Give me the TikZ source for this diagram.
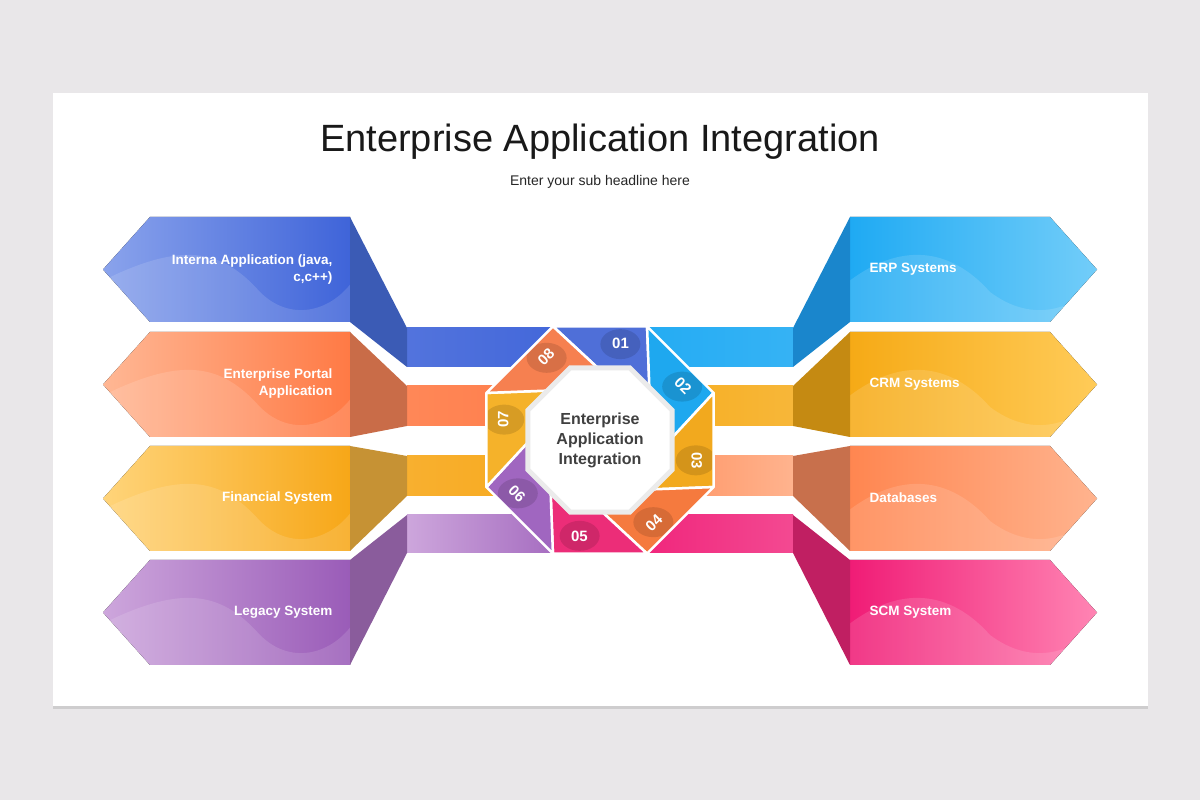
\documentclass[tikz,border=0pt]{standalone}
\usepackage{fontspec}
\setmainfont{Liberation Sans}
\usetikzlibrary{shadows}
\definecolor{bg}{HTML}{E9E7E9}
\definecolor{bluA}{HTML}{8AA3EC}\definecolor{bluB}{HTML}{3F64D9}\definecolor{bluP}{HTML}{3B5BB5}
\definecolor{orA}{HTML}{FFB794}\definecolor{orB}{HTML}{FF7A45}\definecolor{orP}{HTML}{C96C48}
\definecolor{yeA}{HTML}{FFD47A}\definecolor{yeB}{HTML}{F7A718}\definecolor{yeP}{HTML}{C69234}
\definecolor{puA}{HTML}{CDA6DC}\definecolor{puB}{HTML}{9A5CB8}\definecolor{puP}{HTML}{8A5C9C}
\definecolor{lbA}{HTML}{1FAAF3}\definecolor{lbB}{HTML}{72CDF9}\definecolor{lbP}{HTML}{1A86CC}
\definecolor{cyA}{HTML}{F6AA16}\definecolor{cyB}{HTML}{FFCB58}\definecolor{cyP}{HTML}{C58A12}
\definecolor{dbA}{HTML}{FF8650}\definecolor{dbB}{HTML}{FFB38E}\definecolor{dbP}{HTML}{C8704C}
\definecolor{pkA}{HTML}{F01C76}\definecolor{pkB}{HTML}{FF84B3}\definecolor{pkP}{HTML}{C01F62}
\definecolor{s1}{HTML}{4F6FD8}\definecolor{s2}{HTML}{1EA8EF}\definecolor{s3}{HTML}{F2A91E}
\definecolor{s4}{HTML}{F57A3E}\definecolor{s5}{HTML}{EC2D78}\definecolor{s6}{HTML}{A066C0}
\definecolor{s7}{HTML}{F5B22A}\definecolor{s8}{HTML}{F68050}
\begin{document}
\begin{tikzpicture}[x=1pt,y=1pt,
  lbl/.style={text=white,font=\bfseries\fontsize{13.5}{17}\selectfont},
  num/.style={text=white,font=\bfseries\fontsize{15}{16}\selectfont,inner sep=0pt},
  seg/.style={draw=white,line width=2.5pt,line join=round},
]
\useasboundingbox (0,0) rectangle (1200,800);
\fill[bg] (0,0) rectangle (1200,800);
\node[fill=white,minimum width=1095pt,minimum height=613pt,inner sep=0pt,
  drop shadow={shadow xshift=0pt,shadow yshift=-3pt,opacity=0.25}] (card) at (600.5,400.5) {};
\node[font=\fontsize{38}{44}\selectfont,text=black!90] (title) at (600,658) {Enterprise Application Integration};
\node[font=\fontsize{14}{17}\selectfont,text=black!85] (sub) at (600,618) {Enter your sub headline here};

% ---- strips (left)
\fill[left color=bluB!90,right color=bluB] (407,472) rectangle (600,433);
\fill[left color=orB!90,right color=orB] (407,414) rectangle (600,374);
\fill[left color=yeB!90,right color=yeB] (407,344) rectangle (600,304);
\fill[left color=puA,right color=puB] (407,285) rectangle (600,247);
% ---- strips (right)
\fill[left color=lbA,right color=lbA!90] (600,472) rectangle (793,433);
\fill[left color=cyA,right color=cyA!85] (600,414) rectangle (793,374);
\fill[left color=dbA,right color=dbB] (600,344) rectangle (793,304);
\fill[left color=pkA,right color=pkA!80] (600,285) rectangle (793,247);

% ---- left arrows
\newcommand{\leftarr}[6]{%
  \fill[left color=#3,right color=#4] (103,{(#1+#2)/2}) -- (150,#1) -- (350,#1) -- (350,#2) -- (150,#2) -- cycle;
  \begin{scope}
  \clip (103,{(#1+#2)/2}) -- (150,#1) -- (350,#1) -- (350,#2) -- (150,#2) -- cycle;
  \fill[white,opacity=0.13] (100,#2) -- (100,{#2+40}) .. controls (180,{#2+80}) and (220,{#2+75}) .. (260,{#2+30}) .. controls (290,{#2}) and (330,{#2+10}) .. (352,{#2+40}) -- (352,#2) -- cycle;
  \end{scope}
  \fill[#5] #6;
}
\leftarr{583}{478}{bluA}{bluB}{bluP}{(350,583)--(407,472)--(407,433)--(350,478)--cycle}
\leftarr{468}{363}{orA}{orB}{orP}{(350,468)--(407,414)--(407,374)--(350,363)--cycle}
\leftarr{354}{249}{yeA}{yeB}{yeP}{(350,354)--(407,344)--(407,304)--(350,249)--cycle}
\leftarr{240}{135}{puA}{puB}{puP}{(350,240)--(407,285)--(407,247)--(350,135)--cycle}
% ---- right arrows
\newcommand{\rightarr}[6]{%
  \fill[left color=#3,right color=#4] (1097,{(#1+#2)/2}) -- (1050,#1) -- (850,#1) -- (850,#2) -- (1050,#2) -- cycle;
  \begin{scope}
  \clip (1097,{(#1+#2)/2}) -- (1050,#1) -- (850,#1) -- (850,#2) -- (1050,#2) -- cycle;
  \fill[white,opacity=0.13] (848,#2) -- (848,{#2+40}) .. controls (900,{#2+80}) and (950,{#2+75}) .. (990,{#2+30}) .. controls (1030,{#2}) and (1070,{#2+10}) .. (1100,{#2+40}) -- (1100,#2) -- cycle;
  \end{scope}
  \fill[#5] #6;
}
\rightarr{583}{478}{lbA}{lbB}{lbP}{(850,583)--(793,472)--(793,433)--(850,478)--cycle}
\rightarr{468}{363}{cyA}{cyB}{cyP}{(850,468)--(793,414)--(793,374)--(850,363)--cycle}
\rightarr{354}{249}{dbA}{dbB}{dbP}{(850,354)--(793,344)--(793,304)--(850,249)--cycle}
\rightarr{240}{135}{pkA}{pkB}{pkP}{(850,240)--(793,285)--(793,247)--(850,135)--cycle}

% ---- labels
\node[lbl,align=right,anchor=east] (l1) at (336,530) {Interna Application (java,\\c,c++)};
\node[lbl,align=right,anchor=east] (l2) at (336,416) {Enterprise Portal\\Application};
\node[lbl,anchor=east] (l3) at (336,302) {Financial System};
\node[lbl,anchor=east] (l4) at (336,188) {Legacy System};
\node[lbl,anchor=west] (r1) at (866,531) {ERP Systems};
\node[lbl,anchor=west] (r2) at (866,416) {CRM Systems};
\node[lbl,anchor=west] (r3) at (866,302) {Databases};
\node[lbl,anchor=west] (r4) at (866,188) {SCM System};

% ---- octagon ring
\begin{scope}[shift={(600,360)}]
\foreach \phi/\c/\t/\r in {90/s1/01/0,45/s2/02/-45,0/s3/03/-90,-45/s4/04/45,-90/s5/05/0,-135/s6/06/-45,180/s7/07/90,135/s8/08/45}{
  \filldraw[seg,fill=\c] ({\phi+22.5}:123) -- ({\phi-22.5}:123) -- ({\phi-45}:70) -- (\phi:70) -- cycle;
  \begin{scope}
    \clip ({\phi+22.5}:121) -- ({\phi-22.5}:121) -- ({\phi-45}:72) -- (\phi:72) -- cycle;
    \fill[black,opacity=0.12] ({\phi-12}:98) ellipse (20 and 15);
  \end{scope}
  \node[num,rotate=\r] at ({\phi-12}:99) {\t};
}
\filldraw[fill=white,draw=black!8,line width=5pt] (22.5:78) -- (67.5:78) -- (112.5:78) -- (157.5:78) -- (202.5:78) -- (247.5:78) -- (292.5:78) -- (337.5:78) -- cycle;
\node[font=\fontsize{16}{20}\selectfont\bfseries,text=black!75,align=center] (ctr) at (0,0) {Enterprise\\Application\\Integration};
\end{scope}
\end{tikzpicture}
\end{document}
